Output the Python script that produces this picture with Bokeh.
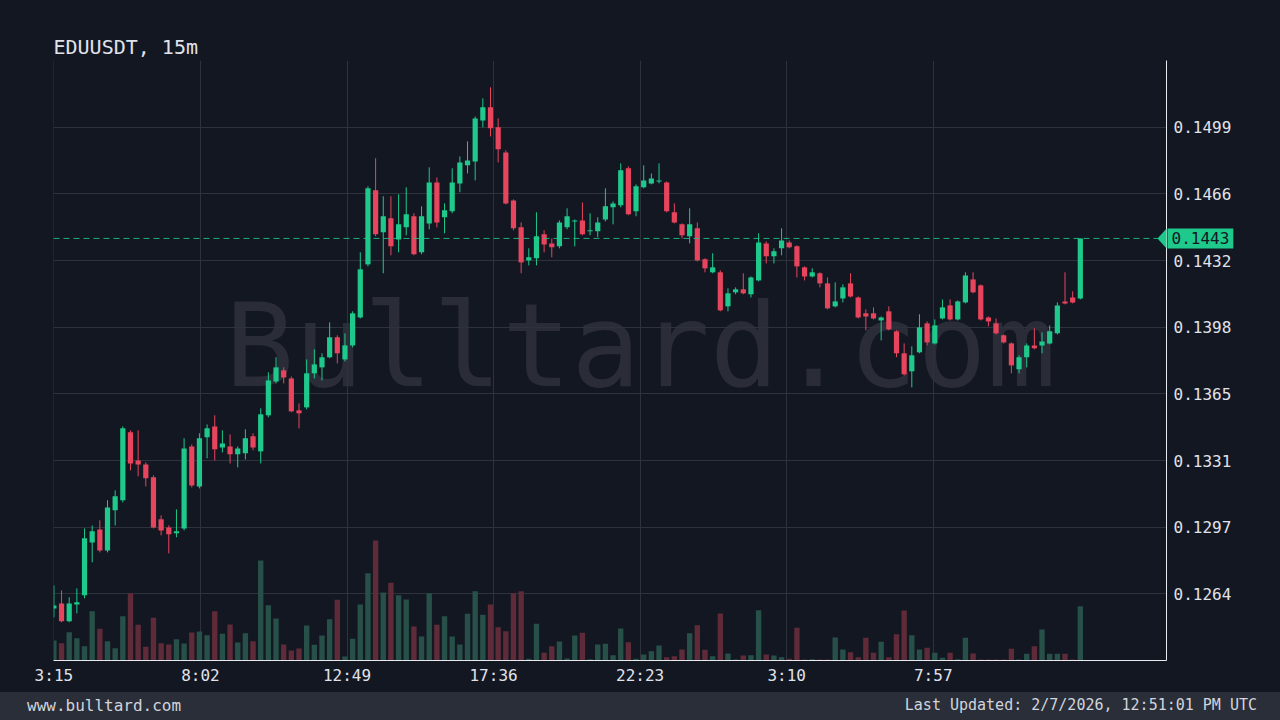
from bokeh.plotting import figure
from bokeh.models import Range1d, FixedTicker, Span, Label, PolyAnnotation, ColumnDataSource, PrintfTickFormatter, Div
from bokeh.layouts import column
from bokeh.embed import file_html
from bokeh.resources import INLINE

# ---------------- data ----------------
chart_title = "EDUUSDT, 15m"
watermark_text = "Bulltard.com"
footer_left = "www.bulltard.com"
footer_right = "Last Updated: 2/7/2026, 12:51:01 PM UTC"

candle_minutes = 15
time_tick_minutes = [0, 287, 574, 861, 1148, 1435, 1722]
time_tick_labels = ["3:15", "8:02", "12:49", "17:36", "22:23", "3:10", "7:57"]

price_min = 0.1230
price_step = 0.003366
price_steps = 9
volume_axis_max = 1800

opens = [0.12563, 0.12588, 0.12498, 0.12583, 0.12629, 0.12896, 0.12962, 0.12856, 0.13058, 0.13109,
         0.13452, 0.13310, 0.13290, 0.13225, 0.13013, 0.12972, 0.12942, 0.12967, 0.13381, 0.13179,
         0.13427, 0.13482, 0.13376, 0.13381, 0.13341, 0.13346, 0.13432, 0.13356, 0.13538, 0.13709,
         0.13765, 0.13724, 0.13563, 0.13578, 0.13750, 0.13780, 0.13831, 0.13932, 0.13820, 0.13891,
         0.14032, 0.14300, 0.14674, 0.14462, 0.14533, 0.14426, 0.14487, 0.14543, 0.14361, 0.14507,
         0.14714, 0.14538, 0.14568, 0.14709, 0.14800, 0.14820, 0.15027, 0.15093, 0.14992, 0.14865,
         0.14623, 0.14487, 0.14320, 0.14331, 0.14452, 0.14406, 0.14391, 0.14487, 0.14517, 0.14522,
         0.14467, 0.14467, 0.14527, 0.14588, 0.14598, 0.14785, 0.14568, 0.14689, 0.14709, 0.14719,
         0.14714, 0.14563, 0.14502, 0.14442, 0.14482, 0.14326, 0.14260, 0.14260, 0.14088, 0.14159,
         0.14174, 0.14149, 0.14219, 0.14406, 0.14341, 0.14381, 0.14411, 0.14391, 0.14285, 0.14239,
         0.14255, 0.14204, 0.14088, 0.14128, 0.14204, 0.14133, 0.14053, 0.14053, 0.14017, 0.14063,
         0.13962, 0.13851, 0.13760, 0.13856, 0.14002, 0.13901, 0.14027, 0.14093, 0.14022, 0.14108,
         0.14224, 0.14194, 0.14032, 0.14002, 0.13942, 0.13901, 0.13770, 0.13831, 0.13891, 0.13891,
         0.13901, 0.13952, 0.14113, 0.14133, 0.14128]

highs = [0.12679, 0.12654, 0.12619, 0.12664, 0.12967, 0.12982, 0.13008, 0.13109, 0.13159, 0.13482,
         0.13462, 0.13462, 0.13300, 0.13235, 0.13033, 0.12982, 0.13063, 0.13422, 0.13391, 0.13447,
         0.13492, 0.13538, 0.13462, 0.13442, 0.13381, 0.13467, 0.13447, 0.13573, 0.13755, 0.13831,
         0.13780, 0.13734, 0.13598, 0.13820, 0.13871, 0.13851, 0.14007, 0.13942, 0.13952, 0.14063,
         0.14361, 0.14694, 0.14836, 0.14644, 0.14644, 0.14654, 0.14689, 0.14558, 0.14593, 0.14790,
         0.14739, 0.14608, 0.14785, 0.14845, 0.14921, 0.15047, 0.15138, 0.15194, 0.15037, 0.14876,
         0.14628, 0.14512, 0.14381, 0.14563, 0.14472, 0.14431, 0.14522, 0.14583, 0.14527, 0.14613,
         0.14558, 0.14538, 0.14684, 0.14618, 0.14810, 0.14795, 0.14704, 0.14800, 0.14759, 0.14810,
         0.14719, 0.14608, 0.14507, 0.14583, 0.14512, 0.14331, 0.14356, 0.14270, 0.14179, 0.14184,
         0.14255, 0.14239, 0.14457, 0.14416, 0.14381, 0.14482, 0.14421, 0.14396, 0.14290, 0.14280,
         0.14260, 0.14234, 0.14209, 0.14199, 0.14255, 0.14138, 0.14073, 0.14083, 0.14037, 0.14088,
         0.13967, 0.13901, 0.13886, 0.14048, 0.14012, 0.14022, 0.14123, 0.14123, 0.14118, 0.14260,
         0.14260, 0.14199, 0.14037, 0.14027, 0.13946, 0.13906, 0.13841, 0.13901, 0.13977, 0.13957,
         0.13992, 0.14108, 0.14260, 0.14164, 0.14431]

lows = [0.12518, 0.12493, 0.12493, 0.12538, 0.12614, 0.12796, 0.12846, 0.12846, 0.12982, 0.13098,
        0.13260, 0.13230, 0.13179, 0.12967, 0.12932, 0.12841, 0.12922, 0.12957, 0.13174, 0.13169,
        0.13321, 0.13310, 0.13351, 0.13295, 0.13275, 0.13315, 0.13361, 0.13295, 0.13528, 0.13699,
        0.13699, 0.13553, 0.13472, 0.13568, 0.13724, 0.13714, 0.13826, 0.13800, 0.13810, 0.13881,
        0.14027, 0.14290, 0.14442, 0.14255, 0.14346, 0.14361, 0.14447, 0.14346, 0.14351, 0.14477,
        0.14487, 0.14457, 0.14558, 0.14664, 0.14759, 0.14724, 0.14992, 0.14946, 0.14815, 0.14603,
        0.14472, 0.14255, 0.14295, 0.14295, 0.14361, 0.14336, 0.14381, 0.14477, 0.14391, 0.14447,
        0.14447, 0.14437, 0.14517, 0.14502, 0.14588, 0.14548, 0.14543, 0.14684, 0.14704, 0.14709,
        0.14563, 0.14507, 0.14431, 0.14406, 0.14315, 0.14260, 0.14255, 0.14063, 0.14063, 0.14149,
        0.14149, 0.14133, 0.14214, 0.14305, 0.14305, 0.14346, 0.14381, 0.14234, 0.14219, 0.14234,
        0.14184, 0.14073, 0.14083, 0.14108, 0.14133, 0.14027, 0.13967, 0.14022, 0.13916, 0.13967,
        0.13831, 0.13739, 0.13679, 0.13851, 0.13891, 0.13896, 0.14022, 0.14017, 0.14017, 0.14103,
        0.14154, 0.14017, 0.13987, 0.13946, 0.13901, 0.13750, 0.13750, 0.13780, 0.13871, 0.13851,
        0.13896, 0.13946, 0.14098, 0.14103, 0.14123]

closes = [0.12578, 0.12498, 0.12588, 0.12594, 0.12917, 0.12952, 0.12856, 0.13073, 0.13129, 0.13472,
          0.13295, 0.13290, 0.13220, 0.12972, 0.12957, 0.12937, 0.12952, 0.13371, 0.13184, 0.13422,
          0.13472, 0.13366, 0.13396, 0.13341, 0.13371, 0.13422, 0.13376, 0.13543, 0.13714, 0.13780,
          0.13729, 0.13558, 0.13548, 0.13750, 0.13795, 0.13831, 0.13932, 0.13851, 0.13891, 0.14053,
          0.14275, 0.14684, 0.14452, 0.14543, 0.14391, 0.14502, 0.14553, 0.14351, 0.14543, 0.14714,
          0.14512, 0.14573, 0.14714, 0.14815, 0.14825, 0.15037, 0.15093, 0.14987, 0.14881, 0.14608,
          0.14482, 0.14310, 0.14336, 0.14442, 0.14401, 0.14386, 0.14512, 0.14543, 0.14522, 0.14452,
          0.14472, 0.14512, 0.14593, 0.14608, 0.14775, 0.14553, 0.14694, 0.14724, 0.14734, 0.14724,
          0.14568, 0.14512, 0.14447, 0.14502, 0.14320, 0.14280, 0.14285, 0.14068, 0.14154, 0.14174,
          0.14154, 0.14234, 0.14411, 0.14341, 0.14366, 0.14421, 0.14386, 0.14290, 0.14239, 0.14260,
          0.14204, 0.14078, 0.14113, 0.14184, 0.14138, 0.14032, 0.14037, 0.14027, 0.14032, 0.13972,
          0.13851, 0.13745, 0.13841, 0.13982, 0.13906, 0.13992, 0.14083, 0.14022, 0.14113, 0.14244,
          0.14159, 0.14022, 0.14012, 0.13952, 0.13906, 0.13790, 0.13831, 0.13891, 0.13876, 0.13911,
          0.13962, 0.14093, 0.14103, 0.14108, 0.14431]

volumes = [60, 52, 85, 67, 43, 148, 95, 58, 37, 133,
           202, 107, 41, 128, 52, 48, 64, 51, 84, 87,
           76, 148, 80, 108, 54, 82, 58, 300, 166, 126,
           48, 30, 36, 105, 47, 75, 124, 182, 12, 65,
           168, 262, 360, 204, 233, 196, 183, 102, 72, 202,
           107, 133, 72, 48, 140, 208, 137, 168, 100, 88,
           202, 208, 5, 110, 23, 43, 57, 6, 75, 83,
           4, 48, 50, 16, 96, 55, 5, 18, 28, 45,
           10, 13, 33, 82, 106, 32, 13, 141, 21, 3,
           15, 16, 151, 18, 15, 10, 5, 98, 3, 4,
           3, 3, 69, 33, 25, 10, 68, 23, 56, 10,
           79, 150, 76, 33, 38, 23, 8, 23, 4, 68,
           21, 3, 3, 3, 3, 35, 3, 20, 43, 93,
           20, 20, 20, 3, 163]

# ---------------- style ----------------
BG = "#131722"
FOOTER_BG = "#2a2e39"
GRID = "#2e323d"
TEXT = "#e1e3ea"
UP = "#1ec98b"
DOWN = "#e6455d"
VOL_UP = "#275048"
VOL_DOWN = "#5f2b38"
WATERMARK = "#2a2d38"
AXIS = "#e8eaf0"
FONT = "DejaVu Sans Mono"

FRAME_L, FRAME_T, FRAME_W, FRAME_H = 53, 60, 1113, 600
FIG_W, FIG_H = 1280, 692
FOOT_H = 28
X_START, X_END = -0.05, 145.25

price_max = price_min + price_steps * price_step
px_price = (price_max - price_min) / FRAME_H
px_x = (X_END - X_START) / FRAME_W


def data_x(pixel_x):
    return X_START + (pixel_x - FRAME_L) * px_x


def data_y(pixel_y):
    return price_max - (pixel_y - FRAME_T) * px_price


n = len(opens)
xs = list(range(n))
is_up = [c >= o for o, c in zip(opens, closes)]
tops, bottoms = [], []
for o, c in zip(opens, closes):
    t, b = max(o, c), min(o, c)
    if t - b < px_price:
        mid = (t + b) / 2
        t, b = mid + px_price / 2, mid - px_price / 2
    tops.append(t)
    bottoms.append(b)

src = ColumnDataSource(dict(
    x=xs, high=highs, low=lows, top=tops, bottom=bottoms, vol=volumes,
    color=[UP if u else DOWN for u in is_up],
    vcolor=[VOL_UP if u else VOL_DOWN for u in is_up],
))

p = figure(width=FIG_W, height=FIG_H,
           x_range=Range1d(X_START, X_END), y_range=Range1d(price_min, price_max),
           y_axis_location="right", toolbar_location=None, output_backend="svg",
           min_border_left=FRAME_L, min_border_right=FIG_W - FRAME_L - FRAME_W,
           min_border_top=FRAME_T, min_border_bottom=FIG_H - FRAME_T - FRAME_H,
           background_fill_color=BG, border_fill_color=BG, outline_line_color=None)
p.extra_y_ranges = {"vol": Range1d(0, volume_axis_max)}

# watermark (SVG text baseline sits ~0.35em low, compensate)
p.add_layout(Label(x=data_x(640), y=data_y(345),
                   text=watermark_text, text_font=FONT, text_font_size="115px",
                   text_color=WATERMARK, text_align="center", text_baseline="alphabetic",
                   level="image"))

# volume
p.vbar(x="x", top="vol", bottom=0, width=0.7, source=src, y_range_name="vol",
       fill_color="vcolor", line_color=None)
# candles
p.segment(x0="x", y0="low", x1="x", y1="high", source=src, line_color="color", line_width=1)
p.vbar(x="x", top="top", bottom="bottom", width=0.68, source=src,
       fill_color="color", line_color=None)

# axes
xax = p.xaxis[0]
xax.ticker = FixedTicker(ticks=[m / candle_minutes for m in time_tick_minutes])
xax.major_label_overrides = {m / candle_minutes: lab for m, lab in zip(time_tick_minutes, time_tick_labels)}
yax = p.yaxis[0]
yax.ticker = FixedTicker(ticks=[price_min + k * price_step for k in range(1, price_steps)])
yax.formatter = PrintfTickFormatter(format="%.4f")
for ax in (xax, yax):
    ax.axis_line_color = AXIS
    ax.axis_line_width = 1
    ax.major_tick_line_color = None
    ax.minor_tick_line_color = None
    ax.major_tick_out = 0
    ax.major_tick_in = 0
    ax.major_label_text_font = FONT
    ax.major_label_text_font_size = "16px"
    ax.major_label_text_color = TEXT
xax.major_label_standoff = 5
yax.major_label_standoff = 7

p.xgrid.grid_line_color = GRID
p.ygrid.grid_line_color = GRID

# current price line and tag
last = closes[-1]
p.add_layout(Span(location=last, dimension="width", line_color=UP, line_alpha=0.85,
                  line_dash="6 4", line_width=1))
y_up = (last - price_min) / (price_max - price_min) * FRAME_H
p.add_layout(PolyAnnotation(xs=[FRAME_W - 9, FRAME_W + 1, FRAME_W + 1],
                            ys=[y_up, y_up + 11, y_up - 11],
                            xs_units="screen", ys_units="screen",
                            fill_color=UP, fill_alpha=1, line_color=None))
p.add_layout(Label(x=data_x(1167), y=last,
                   text="%.4f" % last, text_font=FONT, text_font_size="16px",
                   text_color=BG, text_align="left", text_baseline="middle",
                   background_fill_color=UP, padding=4), "above")

# title
p.add_layout(Label(x=data_x(FRAME_L), y=data_y(46),
                   text=chart_title, text_font=FONT, text_font_size="20px",
                   text_color=TEXT, text_align="left", text_baseline="alphabetic"), "above")

# footer
footer_html = (
    '<div style="display:flex;justify-content:space-between;align-items:center;'
    'box-sizing:border-box;width:1280px;height:28px;padding:0 23px 0 27px;'
    "font-family:'DejaVu Sans Mono',monospace;font-size:16px;color:#d1d4dc;"
    'background:%s;white-space:pre;">'
    '<span>%s</span><span style="font-size:15px;">%s</span></div>'
) % (FOOTER_BG, footer_left, footer_right)
f = Div(text=footer_html, width=FIG_W, height=FOOT_H, margin=0,
        styles={"background-color": FOOTER_BG})

layout = column(p, f, spacing=0)
html = file_html(layout, INLINE, title="EDUUSDT")
html = html.replace("<head>", "<head><style>html,body{margin:0;padding:0;background:#131722;overflow:hidden;}</style>", 1)
open("out.html", "w").write(html)
